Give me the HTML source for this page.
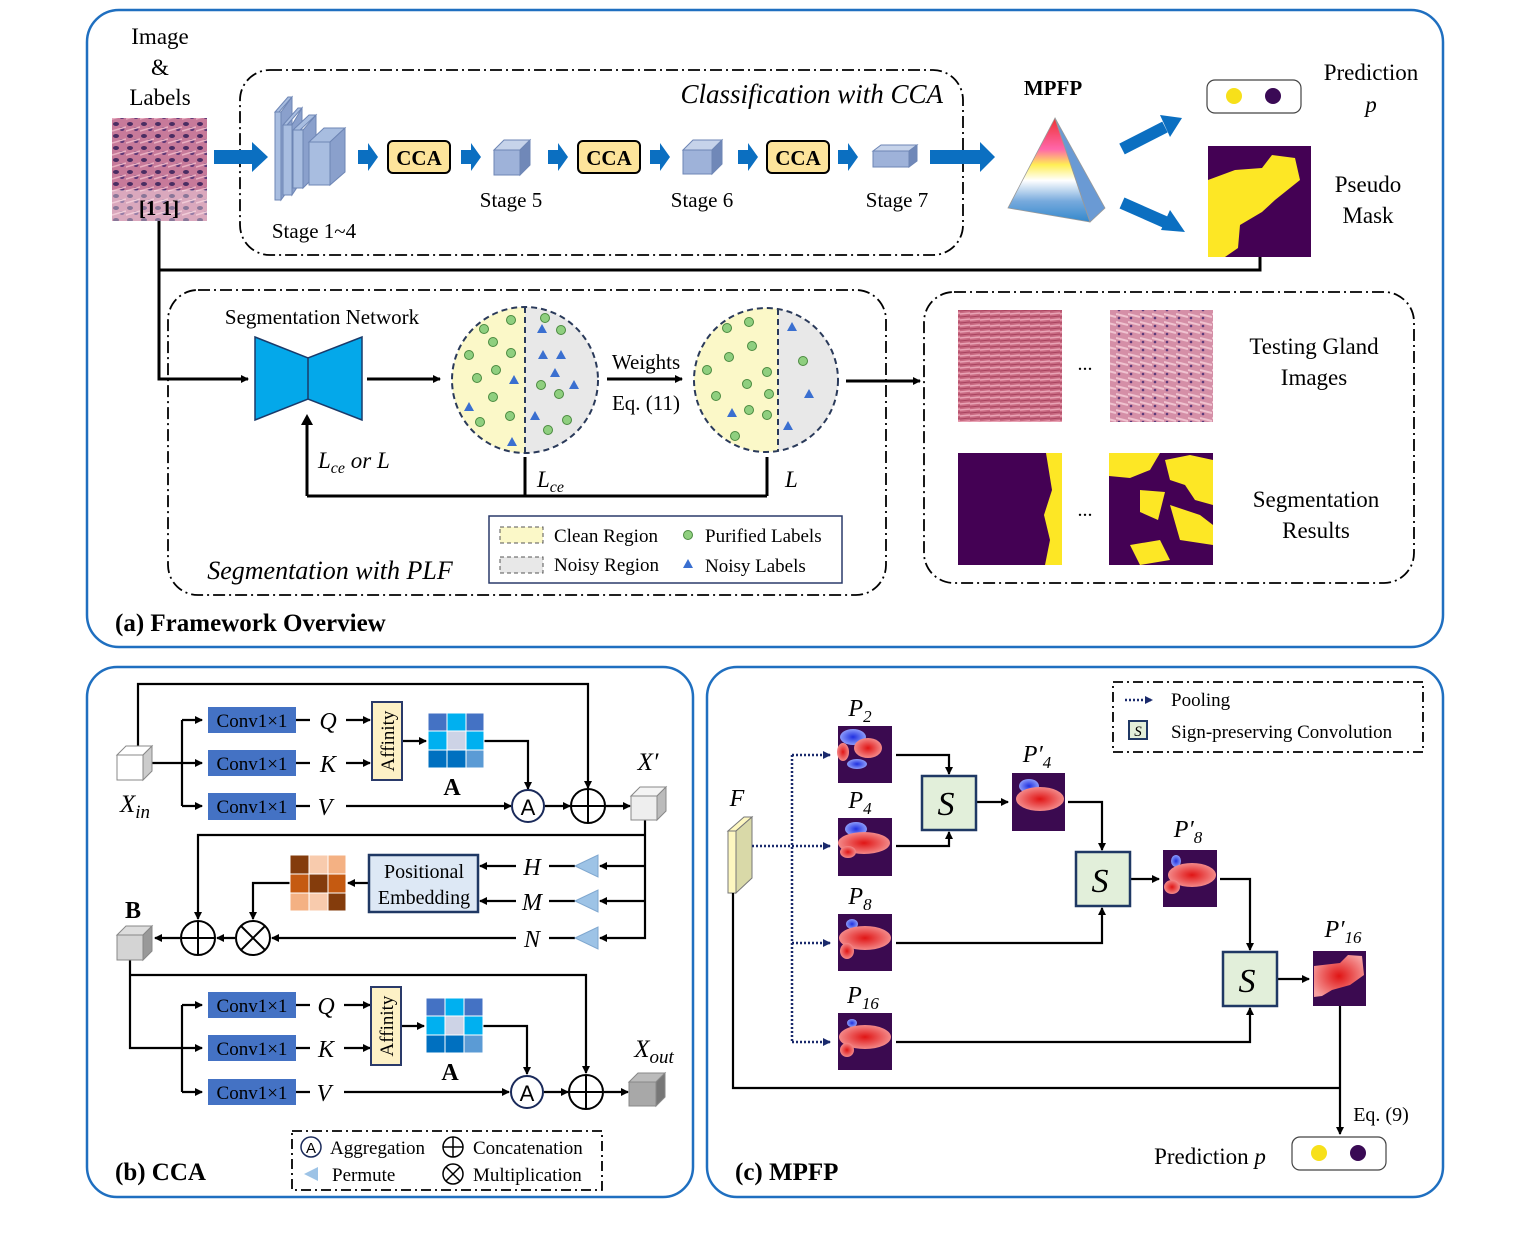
<!DOCTYPE html>
<html><head><meta charset="utf-8"><style>
html,body{margin:0;padding:0;background:#fff}
svg{display:block}
text{font-family:"Liberation Serif",serif;fill:#000}
.it{font-style:italic}
.b{font-weight:bold}
</style></head><body>
<svg width="1527" height="1242" viewBox="0 0 1527 1242" xmlns="http://www.w3.org/2000/svg">
<defs>
<marker id="ah" markerWidth="8" markerHeight="8" refX="7" refY="4" orient="auto" markerUnits="userSpaceOnUse"><path d="M0,0 L8,4 L0,8 z" fill="#000"/></marker>
<marker id="ahb" markerWidth="8" markerHeight="8" refX="7" refY="4" orient="auto" markerUnits="userSpaceOnUse"><path d="M0,0 L8,4 L0,8 z" fill="#1a2a6c"/></marker>
<linearGradient id="pyr" x1="0" y1="0" x2="0" y2="1">
<stop offset="0" stop-color="#e33"/><stop offset="0.3" stop-color="#f6a"/><stop offset="0.45" stop-color="#fe5"/><stop offset="0.6" stop-color="#fff"/><stop offset="0.8" stop-color="#7ad"/><stop offset="1" stop-color="#38c"/></linearGradient>
<pattern id="tis1" width="10" height="6" patternUnits="userSpaceOnUse"><rect width="10" height="6" fill="#c96a82"/><path d="M0,2 L10,1" stroke="#e9a3b5" stroke-width="1.5"/><path d="M0,5 L10,4" stroke="#a8435f" stroke-width="1"/></pattern>
<pattern id="tis2" width="12" height="8" patternUnits="userSpaceOnUse"><rect width="12" height="8" fill="#d58fa7"/><path d="M0,2 L12,5" stroke="#f0c3d0" stroke-width="2"/><circle cx="3" cy="6" r="1.3" fill="#5b3a7a"/></pattern>
<pattern id="tis0" width="14" height="12" patternUnits="userSpaceOnUse"><rect width="14" height="12" fill="#c77a9a"/><ellipse cx="4" cy="4" rx="3" ry="2" fill="#4a2d62"/><ellipse cx="10" cy="9" rx="2.5" ry="2" fill="#5e3877"/><path d="M0,11 L14,7" stroke="#eab0c2" stroke-width="1.5"/></pattern>
<radialGradient id="red" cx="0.5" cy="0.5" r="0.6"><stop offset="0" stop-color="#e01515"/><stop offset="1" stop-color="#f7a0a0"/></radialGradient>
<radialGradient id="blu" cx="0.5" cy="0.5" r="0.6"><stop offset="0" stop-color="#2030e0"/><stop offset="1" stop-color="#a0b0ff"/></radialGradient>
<clipPath id="c2"><circle cx="766" cy="380" r="72"/></clipPath>
</defs>

<rect x="87" y="10" width="1356" height="637" rx="32" fill="none" stroke="#1f6fc0" stroke-width="2.5"/>
<rect x="87" y="667" width="606" height="530" rx="30" fill="none" stroke="#1f6fc0" stroke-width="2.5"/>
<rect x="707" y="667" width="736" height="530" rx="30" fill="none" stroke="#1f6fc0" stroke-width="2.5"/>

<!-- ===== Panel A ===== -->
<text x="160" y="44" font-size="23" text-anchor="middle">Image</text>
<text x="160" y="75" font-size="23" text-anchor="middle">&amp;</text>
<text x="160" y="105" font-size="23" text-anchor="middle">Labels</text>
<rect x="112" y="118" width="95" height="103" fill="url(#tis0)"/>
<rect x="112" y="190" width="95" height="31" fill="#fff" opacity="0.35"/>
<text x="159" y="215" font-size="21" text-anchor="middle" class="b">[1 1]</text>

<rect x="240" y="70" width="723" height="185" rx="30" fill="none" stroke="#000" stroke-width="1.8" stroke-dasharray="12,4,2,4"/>
<text x="943" y="103" font-size="27" text-anchor="end" class="it">Classification with CCA</text>

<path d="M214,150 L252,150 L252,142 L268,157 L252,172 L252,164 L214,164z" fill="#0b6fc1"/>
<g fill="#a8bde0" stroke="#6e86b5" stroke-width="1">
<path d="M275,112 L288,97 L292,97 L279,112z"/><rect x="275" y="112" width="6" height="88"/><path d="M281,112 L292,97 L292,185 L281,200z" fill="#8aa0cc"/>
<path d="M283,125 L298,108 L302,108 L287,125z"/><rect x="283" y="125" width="9" height="70"/><path d="M292,125 L302,108 L302,180 L292,195z" fill="#8aa0cc"/>
<path d="M293,130 L309,115 L316,115 L300,130z"/><rect x="293" y="130" width="10" height="58"/><path d="M303,130 L316,115 L316,175 L303,188z" fill="#8aa0cc"/>
<path d="M309,142 L324,128 L345,128 L330,142z"/><rect x="309" y="142" width="21" height="43"/><path d="M330,142 L345,128 L345,172 L330,185z" fill="#8aa0cc"/>
</g>
<text x="314" y="238" font-size="21" text-anchor="middle">Stage 1~4</text>
<g fill="#0b6fc1">
<path d="M358,150 L368,150 L368,143 L378,157 L368,171 L368,164 L358,164z"/>
<path d="M461,150 L471,150 L471,143 L481,157 L471,171 L471,164 L461,164z"/>
<path d="M548,150 L558,150 L558,143 L568,157 L558,171 L558,164 L548,164z"/>
<path d="M650,150 L660,150 L660,143 L670,157 L660,171 L660,164 L650,164z"/>
<path d="M738,150 L748,150 L748,143 L758,157 L748,171 L748,164 L738,164z"/>
<path d="M838,150 L848,150 L848,143 L858,157 L848,171 L848,164 L838,164z"/>
<path d="M930,150 L980,150 L980,142 L995,157 L980,172 L980,164 L930,164z"/>
</g>
<g stroke="#000" stroke-width="2" fill="#fde49b">
<rect x="388" y="141" width="62" height="32" rx="5"/>
<rect x="578" y="141" width="62" height="32" rx="5"/>
<rect x="767" y="141" width="62" height="32" rx="5"/>
</g>
<g font-size="21" class="b" text-anchor="middle">
<text x="419" y="165">CCA</text><text x="609" y="165">CCA</text><text x="798" y="165">CCA</text>
</g>
<g stroke="#6e86b5" stroke-width="1">
<path d="M494,150 L504,140 L530,140 L520,150z" fill="#c6d3ea"/><rect x="494" y="150" width="26" height="25" fill="#9eb2d9"/><path d="M520,150 L530,140 L530,165 L520,175z" fill="#7088b8"/>
<path d="M683,150 L693,140 L722,140 L712,150z" fill="#c6d3ea"/><rect x="683" y="150" width="29" height="24" fill="#9eb2d9"/><path d="M712,150 L722,140 L722,164 L712,174z" fill="#7088b8"/>
<path d="M873,151 L881,145 L917,145 L909,151z" fill="#c6d3ea"/><rect x="873" y="151" width="36" height="16" fill="#9eb2d9"/><path d="M909,151 L917,145 L917,161 L909,167z" fill="#7088b8"/>
</g>
<g font-size="21" text-anchor="middle"><text x="511" y="207">Stage 5</text><text x="702" y="207">Stage 6</text><text x="897" y="207">Stage 7</text></g>

<text x="1053" y="95" font-size="21" class="b" text-anchor="middle">MPFP</text>
<path d="M1055,118 L1008,208 L1090,222 z" fill="url(#pyr)" stroke="#999" stroke-width="0.8"/>
<path d="M1055,118 L1090,222 L1105,208 z" fill="#6a9ad4" stroke="#999" stroke-width="0.8"/>
<g stroke="#0b6fc1" stroke-width="12"><line x1="1122" y1="149" x2="1165" y2="127"/><line x1="1122" y1="203" x2="1165" y2="222"/></g>
<path d="M1182,118 L1160,115 L1170,137z" fill="#0b6fc1"/>
<path d="M1185,232 L1170,210 L1161,230z" fill="#0b6fc1"/>
<rect x="1207" y="80" width="94" height="33" rx="8" fill="#fff" stroke="#444" stroke-width="1.2"/>
<circle cx="1234" cy="96" r="8" fill="#f7e01a"/><circle cx="1273" cy="96" r="8" fill="#3a0a55"/>
<text x="1371" y="80" font-size="23" text-anchor="middle">Prediction</text>
<text x="1371" y="112" font-size="23" text-anchor="middle" class="it">p</text>
<rect x="1208" y="146" width="103" height="111" fill="#440154"/>
<path d="M1208,180 L1235,170 L1262,168 L1272,155 L1295,158 L1300,180 L1275,200 L1262,212 L1240,225 L1238,248 L1225,257 L1208,257z" fill="#fde725"/>
<text x="1368" y="192" font-size="23" text-anchor="middle">Pseudo</text>
<text x="1368" y="223" font-size="23" text-anchor="middle">Mask</text>

<g stroke="#000" stroke-width="3" fill="none">
<path d="M159,221 L159,379 L248,379" marker-end="url(#ah)"/>
<path d="M159,270 L1260,270 L1260,257"/>
<path d="M367,379 L440,379" marker-end="url(#ah)"/>
<path d="M607,379 L682,379" marker-end="url(#ah)"/>
<path d="M846,381 L920,381" marker-end="url(#ah)"/>
<path d="M525,457 L525,496 M767,457 L767,496 M307,496 L767,496 M307,496 L307,423" />
</g>
<path d="M301,425 L307,414 L313,425z" fill="#000"/>

<rect x="168" y="290" width="718" height="305" rx="30" fill="none" stroke="#000" stroke-width="1.8" stroke-dasharray="12,4,2,4"/>
<text x="322" y="324" font-size="21" text-anchor="middle">Segmentation Network</text>
<path d="M255,337 L308,358 L362,337 L362,420 L308,399 L255,420z" fill="#04a8ea" stroke="#1a3a6a" stroke-width="1.5"/>
<line x1="308" y1="358" x2="308" y2="399" stroke="#1a3a6a" stroke-width="1.5"/>

<g>
<path d="M525,307 A73,73 0 0 0 525,453z" fill="#fbf8c8"/>
<path d="M525,307 A73,73 0 0 1 525,453z" fill="#e8e8e8"/>
<circle cx="525" cy="380" r="73" fill="none" stroke="#2a3a5a" stroke-width="2" stroke-dasharray="6,4"/>
<line x1="525" y1="307" x2="525" y2="453" stroke="#2a3a5a" stroke-width="2" stroke-dasharray="6,4"/>
<g clip-path="url(#c2)"><rect x="690" y="300" width="88" height="160" fill="#fbf8c8"/><rect x="778" y="300" width="80" height="160" fill="#e8e8e8"/></g>
<circle cx="766" cy="380" r="72" fill="none" stroke="#2a3a5a" stroke-width="2" stroke-dasharray="6,4"/>
<line x1="778" y1="309" x2="778" y2="451" stroke="#2a3a5a" stroke-width="2" stroke-dasharray="6,4"/>
</g>
<g fill="#8fcf7f" stroke="#4a8a3f" stroke-width="1">
<circle cx="484" cy="329" r="4.5"/><circle cx="511" cy="320" r="4.5"/><circle cx="469" cy="355" r="4.5"/><circle cx="493" cy="342" r="4.5"/><circle cx="511" cy="353" r="4.5"/><circle cx="496" cy="370" r="4.5"/><circle cx="477" cy="378" r="4.5"/><circle cx="493" cy="397" r="4.5"/><circle cx="510" cy="416" r="4.5"/><circle cx="480" cy="422" r="4.5"/><circle cx="545" cy="318" r="4.5"/><circle cx="561" cy="330" r="4.5"/><circle cx="541" cy="385" r="4.5"/><circle cx="559" cy="394" r="4.5"/><circle cx="567" cy="420" r="4.5"/><circle cx="548" cy="430" r="4.5"/>
<circle cx="727" cy="328" r="4.5"/><circle cx="749" cy="322" r="4.5"/><circle cx="707" cy="370" r="4.5"/><circle cx="729" cy="357" r="4.5"/><circle cx="752" cy="346" r="4.5"/><circle cx="767" cy="372" r="4.5"/><circle cx="747" cy="384" r="4.5"/><circle cx="716" cy="396" r="4.5"/><circle cx="749" cy="410" r="4.5"/><circle cx="767" cy="415" r="4.5"/><circle cx="735" cy="436" r="4.5"/><circle cx="769" cy="394" r="4.5"/><circle cx="803" cy="361" r="4.5"/>
</g>
<g fill="#3a6fd0">
<path d="M514,375 l-5,9 h10z"/><path d="M469,402 l-5,9 h10z"/><path d="M512,437 l-5,9 h10z"/><path d="M542,324 l-5,9 h10z"/><path d="M543,350 l-5,9 h10z"/><path d="M561,350 l-5,9 h10z"/><path d="M555,368 l-5,9 h10z"/><path d="M574,380 l-5,9 h10z"/><path d="M535,411 l-5,9 h10z"/>
<path d="M732,408 l-5,9 h10z"/><path d="M792,322 l-5,9 h10z"/><path d="M809,389 l-5,9 h10z"/><path d="M788,421 l-5,9 h10z"/>
</g>
<text x="646" y="369" font-size="21" text-anchor="middle">Weights</text>
<text x="646" y="410" font-size="21" text-anchor="middle">Eq. (11)</text>
<text x="318" y="468" font-size="23" class="it">L<tspan font-size="16" dy="5">ce</tspan><tspan dy="-5"> or L</tspan></text>
<text x="537" y="487" font-size="23" class="it">L<tspan font-size="16" dy="5">ce</tspan></text>
<text x="785" y="487" font-size="23" class="it">L</text>

<rect x="489" y="516" width="353" height="67" fill="#fff" stroke="#2a3a6a" stroke-width="1.5"/>
<rect x="500" y="527" width="43" height="16" fill="#fbf8c8" stroke="#555" stroke-dasharray="4,3"/>
<rect x="500" y="557" width="43" height="16" fill="#e8e8e8" stroke="#555" stroke-dasharray="4,3"/>
<text x="554" y="542" font-size="19">Clean Region</text>
<text x="554" y="571" font-size="19">Noisy Region</text>
<circle cx="688" cy="535" r="4.5" fill="#8fcf7f" stroke="#4a8a3f"/>
<path d="M688,559 l-5,9 h10z" fill="#3a6fd0"/>
<text x="705" y="542" font-size="19">Purified Labels</text>
<text x="705" y="572" font-size="19">Noisy Labels</text>
<text x="330" y="579" font-size="26" class="it" text-anchor="middle">Segmentation with PLF</text>

<rect x="924" y="292" width="490" height="291" rx="30" fill="none" stroke="#000" stroke-width="1.8" stroke-dasharray="12,4,2,4"/>
<rect x="958" y="310" width="104" height="112" fill="url(#tis1)"/>
<rect x="1110" y="310" width="103" height="112" fill="url(#tis2)"/>
<text x="1085" y="370" font-size="20" text-anchor="middle">...</text>
<rect x="958" y="453" width="104" height="112" fill="#440154"/>
<path d="M1046,453 L1062,453 L1062,565 L1045,565 L1050,540 L1044,515 L1052,490z" fill="#fde725"/>
<text x="1085" y="516" font-size="20" text-anchor="middle">...</text>
<rect x="1109" y="453" width="104" height="112" fill="#440154"/>
<path d="M1109,453 L1160,453 L1150,470 L1130,478 L1109,476z M1165,460 L1190,455 L1213,460 L1213,505 L1195,500 L1185,485 L1170,480z M1140,490 L1165,492 L1158,520 L1140,512z M1170,505 L1200,515 L1213,525 L1213,545 L1180,540z M1130,545 L1160,540 L1170,560 L1140,565z" fill="#fde725"/>
<text x="1314" y="354" font-size="23" text-anchor="middle">Testing Gland</text>
<text x="1314" y="385" font-size="23" text-anchor="middle">Images</text>
<text x="1316" y="507" font-size="23" text-anchor="middle">Segmentation</text>
<text x="1316" y="538" font-size="23" text-anchor="middle">Results</text>

<text x="115" y="631" font-size="25" class="b">(a) Framework Overview</text>

<!-- ===== Panel B ===== -->
<g stroke="#000" stroke-width="2.2" fill="none">
<path d="M138,748 L138,684 L588,684 L588,788" marker-end="url(#ah)"/>
<path d="M152,763 L202,763" marker-end="url(#ah)"/>
<path d="M182,720 L182,806" />
<path d="M182,720 L202,720" marker-end="url(#ah)"/><path d="M182,806 L202,806" marker-end="url(#ah)"/>
<path d="M296,720 L310,720 M296,763 L310,763 M296,806 L310,806"/>
<path d="M346,720 L370,720" marker-end="url(#ah)"/><path d="M346,763 L370,763" marker-end="url(#ah)"/>
<path d="M402,741 L426,741" marker-end="url(#ah)"/>
<path d="M484,741 L528,741 L528,789" marker-end="url(#ah)"/>
<path d="M346,806 L511,806" marker-end="url(#ah)"/>
<path d="M545,806 L570,806" marker-end="url(#ah)"/>
<path d="M605,806 L630,806" marker-end="url(#ah)"/>
<path d="M645,820 L645,938 L600,938" marker-end="url(#ah)"/>
<path d="M645,866 L600,866" marker-end="url(#ah)"/><path d="M645,901 L600,901" marker-end="url(#ah)"/>
<path d="M645,835 L198,835 L198,919" marker-end="url(#ah)"/>
<path d="M575,866 L549,866 M575,901 L549,901 M575,938 L549,938"/>
<path d="M516,866 L480,866" marker-end="url(#ah)"/><path d="M516,901 L480,901" marker-end="url(#ah)"/>
<path d="M368,883 L348,883" marker-end="url(#ah)"/>
<path d="M290,883 L253,883 L253,919" marker-end="url(#ah)"/>
<path d="M516,938 L272,938" marker-end="url(#ah)"/>
<path d="M235,938 L217,938" marker-end="url(#ah)"/>
<path d="M180,938 L155,938" marker-end="url(#ah)"/>
<path d="M130,960 L130,1048 L202,1048" marker-end="url(#ah)"/>
<path d="M130,975 L586,975 L586,1073" marker-end="url(#ah)"/>
<path d="M182,1005 L182,1092"/>
<path d="M182,1005 L202,1005" marker-end="url(#ah)"/>
<path d="M182,1092 L202,1092" marker-end="url(#ah)"/>
<path d="M296,1005 L310,1005 M296,1048 L310,1048 M296,1092 L310,1092"/>
<path d="M344,1005 L370,1005" marker-end="url(#ah)"/><path d="M344,1048 L370,1048" marker-end="url(#ah)"/>
<path d="M401,1026 L424,1026" marker-end="url(#ah)"/>
<path d="M483,1026 L527,1026 L527,1074" marker-end="url(#ah)"/>
<path d="M344,1092 L509,1092" marker-end="url(#ah)"/>
<path d="M544,1092 L568,1092" marker-end="url(#ah)"/>
<path d="M604,1092 L628,1092" marker-end="url(#ah)"/>
</g>
<g stroke="#888" stroke-width="1">
<path d="M117,755 L126,746 L152,746 L143,755z" fill="#fff"/><rect x="117" y="755" width="26" height="25" fill="#fff"/><path d="M143,755 L152,746 L152,771 L143,780z" fill="#ccc"/>
<path d="M631,796 L640,787 L666,787 L657,796z" fill="#f4f4f4"/><rect x="631" y="796" width="26" height="24" fill="#eee"/><path d="M657,796 L666,787 L666,811 L657,820z" fill="#bbb"/>
<path d="M117,935 L126,926 L152,926 L143,935z" fill="#ddd"/><rect x="117" y="935" width="26" height="25" fill="#d4d4d4"/><path d="M143,935 L152,926 L152,951 L143,960z" fill="#999"/>
<path d="M629,1082 L638,1073 L665,1073 L656,1082z" fill="#bbb"/><rect x="629" y="1082" width="27" height="24" fill="#a8a8a8"/><path d="M656,1082 L665,1073 L665,1097 L656,1106z" fill="#777"/>
</g>
<text x="135" y="812" font-size="25" class="it" text-anchor="middle">X<tspan font-size="19" dy="6">in</tspan></text>
<text x="648" y="770" font-size="25" class="it" text-anchor="middle">X′</text>
<text x="133" y="918" font-size="24" class="b" text-anchor="middle">B</text>
<text x="654" y="1057" font-size="25" class="it" text-anchor="middle">X<tspan font-size="19" dy="6">out</tspan></text>
<g fill="#4472c4">
<rect x="208" y="707" width="88" height="26"/><rect x="208" y="750" width="88" height="26"/><rect x="208" y="793" width="88" height="27"/>
<rect x="208" y="992" width="88" height="26"/><rect x="208" y="1035" width="88" height="26"/><rect x="208" y="1079" width="88" height="26"/>
</g>
<g font-size="19" text-anchor="middle">
<text x="252" y="727" fill="#fff">Conv1×1</text><text x="252" y="770" fill="#fff">Conv1×1</text><text x="252" y="813" fill="#fff">Conv1×1</text>
<text x="252" y="1012" fill="#fff">Conv1×1</text><text x="252" y="1055" fill="#fff">Conv1×1</text><text x="252" y="1099" fill="#fff">Conv1×1</text>
</g>
<g font-size="24" class="it" text-anchor="middle">
<text x="328" y="729">Q</text><text x="328" y="772">K</text><text x="325" y="815">V</text>
<text x="326" y="1014">Q</text><text x="326" y="1057">K</text><text x="324" y="1101">V</text>
<text x="532" y="875">H</text><text x="532" y="910">M</text><text x="532" y="947">N</text>
</g>
<rect x="372" y="702" width="30" height="78" fill="#fdf1c6" stroke="#2a3a6a" stroke-width="2"/>
<text transform="translate(394,741) rotate(-90)" font-size="19" text-anchor="middle">Affinity</text>
<rect x="371" y="987" width="30" height="78" fill="#fdf1c6" stroke="#2a3a6a" stroke-width="2"/>
<text transform="translate(393,1026) rotate(-90)" font-size="19" text-anchor="middle">Affinity</text>
<g stroke="#fff" stroke-width="1">
<rect x="428" y="713" width="19" height="18" fill="#4472c4"/><rect x="447" y="713" width="19" height="18" fill="#00b0f0"/><rect x="466" y="713" width="18" height="18" fill="#4472c4"/>
<rect x="428" y="731" width="19" height="19" fill="#00b0f0"/><rect x="447" y="731" width="19" height="19" fill="#cdd3e6"/><rect x="466" y="731" width="18" height="19" fill="#00b0f0"/>
<rect x="428" y="750" width="19" height="18" fill="#0070c0"/><rect x="447" y="750" width="19" height="18" fill="#0070c0"/><rect x="466" y="750" width="18" height="18" fill="#5b9bd5"/>
<rect x="426" y="998" width="19" height="18" fill="#4472c4"/><rect x="445" y="998" width="19" height="18" fill="#00b0f0"/><rect x="464" y="998" width="19" height="18" fill="#4472c4"/>
<rect x="426" y="1016" width="19" height="19" fill="#00b0f0"/><rect x="445" y="1016" width="19" height="19" fill="#cdd3e6"/><rect x="464" y="1016" width="19" height="19" fill="#00b0f0"/>
<rect x="426" y="1035" width="19" height="18" fill="#0070c0"/><rect x="445" y="1035" width="19" height="18" fill="#0070c0"/><rect x="464" y="1035" width="19" height="18" fill="#5b9bd5"/>
</g>
<text x="452" y="795" font-size="24" class="b" text-anchor="middle">A</text>
<text x="450" y="1080" font-size="24" class="b" text-anchor="middle">A</text>
<g fill="#fff" stroke="#000" stroke-width="2">
<circle cx="528" cy="806" r="16" stroke="#1a2a5a"/><circle cx="588" cy="806" r="17"/>
<circle cx="198" cy="938" r="17"/><circle cx="253" cy="938" r="17"/>
<circle cx="527" cy="1092" r="16" stroke="#1a2a5a"/><circle cx="586" cy="1092" r="17"/>
</g>
<g stroke="#000" stroke-width="2">
<path d="M571,806 H605 M588,789 V823"/><path d="M181,938 H215 M198,921 V955"/>
<path d="M241,926 L265,950 M265,926 L241,950"/><path d="M569,1092 H603 M586,1075 V1109"/>
</g>
<text x="528" y="815" font-size="22" text-anchor="middle" style="font-family:'Liberation Sans',sans-serif">A</text>
<text x="527" y="1101" font-size="22" text-anchor="middle" style="font-family:'Liberation Sans',sans-serif">A</text>
<g fill="#9dc3e6" stroke="#7fa7cf">
<path d="M575,866 L598,855 L598,877z"/><path d="M575,901 L598,890 L598,912z"/><path d="M575,938 L598,927 L598,949z"/>
</g>
<rect x="369" y="855" width="109" height="57" fill="#dde8f5" stroke="#1f3864" stroke-width="2.5"/>
<text x="424" y="878" font-size="20" text-anchor="middle">Positional</text>
<text x="424" y="904" font-size="20" text-anchor="middle">Embedding</text>
<g stroke="#fff" stroke-width="1">
<rect x="290" y="855" width="19" height="19" fill="#843c0c"/><rect x="309" y="855" width="19" height="19" fill="#f8cbad"/><rect x="328" y="855" width="18" height="19" fill="#f4b183"/>
<rect x="290" y="874" width="19" height="19" fill="#c55a11"/><rect x="309" y="874" width="19" height="19" fill="#843c0c"/><rect x="328" y="874" width="18" height="19" fill="#c55a11"/>
<rect x="290" y="893" width="19" height="18" fill="#f4b183"/><rect x="309" y="893" width="19" height="18" fill="#f8cbad"/><rect x="328" y="893" width="18" height="18" fill="#843c0c"/>
</g>
<rect x="292" y="1131" width="310" height="59" fill="none" stroke="#000" stroke-width="1.8" stroke-dasharray="10,4,2,4"/>
<circle cx="311" cy="1147" r="10" fill="#fff" stroke="#1a2a5a" stroke-width="1.5"/>
<text x="311" y="1153" font-size="15" text-anchor="middle" style="font-family:'Liberation Sans',sans-serif">A</text>
<text x="330" y="1154" font-size="19">Aggregation</text>
<circle cx="453" cy="1147" r="10" fill="#fff" stroke="#000" stroke-width="1.5"/><path d="M443,1147 H463 M453,1137 V1157" stroke="#000" stroke-width="1.5"/>
<text x="473" y="1154" font-size="19">Concatenation</text>
<path d="M304,1174 L318,1167 L318,1181z" fill="#9dc3e6"/>
<text x="332" y="1181" font-size="19">Permute</text>
<circle cx="453" cy="1174" r="10" fill="#fff" stroke="#000" stroke-width="1.5"/><path d="M446,1167 L460,1181 M460,1167 L446,1181" stroke="#000" stroke-width="1.5"/>
<text x="473" y="1181" font-size="19">Multiplication</text>
<text x="115" y="1180" font-size="25" class="b">(b) CCA</text>

<!-- ===== Panel C ===== -->
<rect x="1113" y="682" width="310" height="70" fill="none" stroke="#000" stroke-width="1.8" stroke-dasharray="10,4,2,4"/>
<path d="M1125,700 L1152,700" stroke="#1a2a6c" stroke-width="2.5" stroke-dasharray="2,2" marker-end="url(#ahb)"/>
<text x="1171" y="706" font-size="19">Pooling</text>
<rect x="1129" y="721" width="18" height="18" fill="#e2efda" stroke="#1f3864" stroke-width="2"/>
<text x="1138" y="736" font-size="15" class="it" text-anchor="middle">S</text>
<text x="1171" y="738" font-size="19">Sign-preserving Convolution</text>

<path d="M728,831 L744,817 L752,817 L736,831z" fill="#fdf7c0" stroke="#777"/>
<rect x="728" y="831" width="8" height="62" fill="#fdf7c0" stroke="#777"/>
<path d="M736,831 L752,817 L752,878 L736,893z" fill="#d9d9a8" stroke="#777"/>
<text x="737" y="806" font-size="24" class="it" text-anchor="middle">F</text>

<g stroke="#1a2a6c" stroke-width="2.5" stroke-dasharray="2,2" fill="none">
<path d="M752,846 L792,846"/><path d="M792,755 L792,1042"/>
<path d="M792,755 L830,755" marker-end="url(#ahb)"/><path d="M792,846 L830,846" marker-end="url(#ahb)"/>
<path d="M792,943 L830,943" marker-end="url(#ahb)"/><path d="M792,1042 L830,1042" marker-end="url(#ahb)"/>
</g>
<g stroke="#000" stroke-width="2.2" fill="none">
<path d="M733,893 L733,1088 L1340,1088"/>
<path d="M1340,1006 L1340,1134" marker-end="url(#ah)"/>
<path d="M896,755 L949,755 L949,774" marker-end="url(#ah)"/>
<path d="M896,846 L949,846 L949,832" marker-end="url(#ah)"/>
<path d="M976,802 L1008,802" marker-end="url(#ah)"/>
<path d="M1068,802 L1102,802 L1102,850" marker-end="url(#ah)"/>
<path d="M896,943 L1102,943 L1102,908" marker-end="url(#ah)"/>
<path d="M1130,879 L1159,879" marker-end="url(#ah)"/>
<path d="M1220,879 L1250,879 L1250,950" marker-end="url(#ah)"/>
<path d="M896,1042 L1250,1042 L1250,1008" marker-end="url(#ah)"/>
<path d="M1277,979 L1309,979" marker-end="url(#ah)"/>
</g>
<g>
<rect x="838" y="726" width="54" height="57" fill="#3b0a50"/>
<ellipse cx="853" cy="737" rx="13" ry="8" fill="url(#blu)"/><ellipse cx="868" cy="748" rx="14" ry="10" fill="url(#red)"/><ellipse cx="843" cy="752" rx="6" ry="9" fill="url(#red)"/><ellipse cx="857" cy="764" rx="10" ry="5" fill="url(#blu)"/>
<rect x="838" y="818" width="54" height="58" fill="#3b0a50"/>
<ellipse cx="856" cy="829" rx="11" ry="7" fill="url(#blu)"/><ellipse cx="864" cy="843" rx="26" ry="11" fill="url(#red)"/><ellipse cx="848" cy="852" rx="8" ry="6" fill="url(#red)"/>
<rect x="838" y="914" width="54" height="57" fill="#3b0a50"/>
<ellipse cx="852" cy="924" rx="6" ry="5" fill="url(#blu)"/><ellipse cx="865" cy="938" rx="26" ry="12" fill="url(#red)"/><ellipse cx="847" cy="951" rx="7" ry="8" fill="url(#red)"/>
<rect x="838" y="1013" width="54" height="57" fill="#3b0a50"/>
<ellipse cx="852" cy="1023" rx="5" ry="4" fill="url(#blu)"/><ellipse cx="865" cy="1037" rx="26" ry="12" fill="url(#red)"/><ellipse cx="847" cy="1050" rx="7" ry="7" fill="url(#red)"/>
<rect x="1012" y="773" width="53" height="58" fill="#3b0a50"/>
<ellipse cx="1029" cy="786" rx="10" ry="7" fill="url(#blu)"/><ellipse cx="1040" cy="799" rx="24" ry="12" fill="url(#red)"/>
<rect x="1163" y="850" width="54" height="57" fill="#3b0a50"/>
<ellipse cx="1176" cy="861" rx="5" ry="6" fill="url(#blu)"/><ellipse cx="1192" cy="875" rx="24" ry="12" fill="url(#red)"/><ellipse cx="1172" cy="887" rx="8" ry="7" fill="url(#red)"/>
<rect x="1313" y="951" width="53" height="55" fill="#3b0a50"/>
<path d="M1314,966 L1340,963 L1348,955 L1362,956 L1364,975 L1350,985 L1332,990 L1322,996 L1314,997z" fill="url(#red)"/>
</g>
<g fill="#e2efda" stroke="#1f3864" stroke-width="2.5">
<rect x="922" y="776" width="54" height="54"/><rect x="1076" y="852" width="54" height="54"/><rect x="1223" y="952" width="54" height="54"/>
</g>
<g font-size="34" class="it" text-anchor="middle">
<text x="946" y="815">S</text><text x="1100" y="892">S</text><text x="1247" y="992">S</text>
</g>
<g font-size="24" class="it" text-anchor="middle">
<text x="860" y="716">P<tspan font-size="17" dy="6">2</tspan></text>
<text x="860" y="808">P<tspan font-size="17" dy="6">4</tspan></text>
<text x="860" y="904">P<tspan font-size="17" dy="6">8</tspan></text>
<text x="863" y="1003">P<tspan font-size="17" dy="6">16</tspan></text>
<text x="1037" y="762">P′<tspan font-size="17" dy="6">4</tspan></text>
<text x="1188" y="837">P′<tspan font-size="17" dy="6">8</tspan></text>
<text x="1343" y="937">P′<tspan font-size="17" dy="6">16</tspan></text>
</g>
<text x="1381" y="1121" font-size="20" text-anchor="middle">Eq. (9)</text>
<text x="1210" y="1164" font-size="23" text-anchor="middle">Prediction <tspan class="it">p</tspan></text>
<rect x="1292" y="1137" width="94" height="33" rx="8" fill="#fff" stroke="#444" stroke-width="1.2"/>
<circle cx="1319" cy="1153" r="8" fill="#f7e01a"/><circle cx="1358" cy="1153" r="8" fill="#3a0a55"/>
<text x="735" y="1180" font-size="25" class="b">(c) MPFP</text>
</svg>
</body></html>
